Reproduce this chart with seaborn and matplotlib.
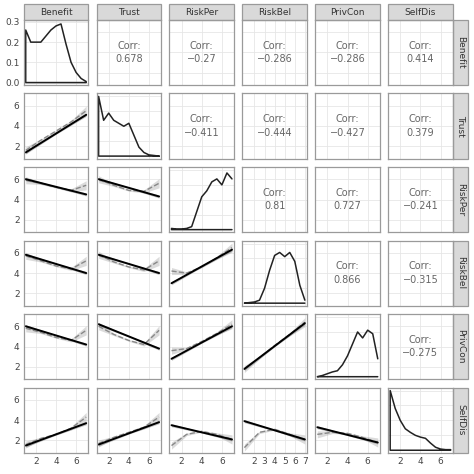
import numpy as np
import pandas as pd
import matplotlib
matplotlib.use("Agg")
import matplotlib.pyplot as plt
import seaborn as sns
from matplotlib.patches import Rectangle

variables = ["Benefit", "Trust", "RiskPer", "RiskBel", "PrivCon", "SelfDis"]

# upper triangle correlations (row, col)
corr = {
    (0, 1): "0.678", (0, 2): "\u22120.27", (0, 3): "\u22120.286", (0, 4): "\u22120.286", (0, 5): "0.414",
    (1, 2): "\u22120.411", (1, 3): "\u22120.444", (1, 4): "\u22120.427", (1, 5): "0.379",
    (2, 3): "0.81", (2, 4): "0.727", (2, 5): "\u22120.241",
    (3, 4): "0.866", (3, 5): "\u22120.315",
    (4, 5): "\u22120.275",
}

# density curves on grid 1..7 step 0.5 (Benefit in real density units, others relative)
dens_x = [1, 1.5, 2, 2.5, 3, 3.5, 4, 4.5, 5, 5.5, 6, 6.5, 7]
dens = {
    "Benefit": [0.26, 0.2, 0.2, 0.2, 0.23, 0.26, 0.28, 0.29, 0.19, 0.1, 0.05, 0.02, 0.005],
    "Trust": [1.0, 0.6, 0.72, 0.6, 0.55, 0.5, 0.55, 0.35, 0.15, 0.06, 0.02, 0.01, 0.0],
    "RiskPer": [0.02, 0.01, 0.01, 0.02, 0.05, 0.3, 0.55, 0.65, 0.8, 0.85, 0.75, 0.95, 0.85],
    "RiskBel": [0.0, 0.01, 0.02, 0.05, 0.25, 0.55, 0.8, 0.85, 0.78, 0.85, 0.7, 0.3, 0.05],
    "PrivCon": [0.0, 0.02, 0.05, 0.08, 0.1, 0.2, 0.35, 0.55, 0.75, 0.65, 0.78, 0.72, 0.3],
    "SelfDis": [1.0, 0.7, 0.5, 0.36, 0.3, 0.25, 0.22, 0.2, 0.12, 0.05, 0.02, 0.01, 0.01],
}

# lower panels: linear fit (y at x=1, y at x=7) and smooth curve at x=1,2.5,4,5.5,7
curve_x = [1, 2.5, 4, 5.5, 7]
lin = {
    (1, 0): (1.4, 5.1), (2, 0): (6.0, 4.5), (2, 1): (6.0, 4.3),
    (3, 0): (5.8, 4.0), (3, 1): (5.8, 4.0), (3, 2): (3.0, 6.3),
    (4, 0): (6.0, 4.2), (4, 1): (6.2, 3.8), (4, 2): (2.8, 6.0), (4, 3): (1.8, 6.3),
    (5, 0): (1.5, 3.7), (5, 1): (1.6, 3.8), (5, 2): (3.5, 2.1), (5, 3): (3.9, 2.1), (5, 4): (3.3, 1.8),
}
curve = {
    (1, 0): [1.6, 2.6, 3.5, 4.4, 5.5], (2, 0): [5.9, 5.6, 5.2, 4.9, 5.4], (2, 1): [6.0, 5.4, 4.9, 4.8, 5.6],
    (3, 0): [5.7, 5.2, 4.7, 4.4, 5.2], (3, 1): [5.8, 5.1, 4.6, 4.3, 5.2], (3, 2): [4.2, 4.0, 4.6, 5.5, 6.5],
    (4, 0): [5.8, 5.4, 4.9, 4.6, 5.6], (4, 1): [6.0, 5.2, 4.6, 4.2, 5.6], (4, 2): [3.6, 3.8, 4.5, 5.3, 6.2],
    (4, 3): [1.8, 2.9, 4.1, 5.2, 6.4],
    (5, 0): [1.6, 2.2, 2.6, 3.2, 4.3], (5, 1): [1.7, 2.3, 2.8, 3.3, 4.3], (5, 2): [1.5, 2.6, 2.9, 2.6, 2.1],
    (5, 3): [1.3, 2.8, 3.1, 2.6, 2.1], (5, 4): [2.6, 2.8, 2.7, 2.3, 1.8],
}

sns.set_theme(style="whitegrid")
plt.rcParams["font.family"] = ["DejaVu Sans"]

fig, axes = plt.subplots(6, 6, figsize=(4.74, 4.74), dpi=100)
fig.subplots_adjust(left=0.05, right=0.955, top=0.958, bottom=0.045, wspace=0.13, hspace=0.13)

n = len(variables)
for i in range(n):
    for j in range(n):
        ax = axes[i, j]
        if j == 3:
            ax.set_xticks([2, 3, 4, 5, 6, 7])
        else:
            ax.set_xticks([2, 4, 6])
        if i == j:
            d = dens[variables[i]]
            top = 0.31 if i == 0 else 1.05
            if i == 0:
                ax.set_yticks([0.0, 0.1, 0.2, 0.3])
            else:
                ax.set_yticks([0.25, 0.5, 0.75, 1.0])
            # closed outline: baseline, vertical rise at x=1, then the curve
            xs = [dens_x[-1], dens_x[0], dens_x[0]] + dens_x
            ys = [0, 0, 0] + d
            sns.lineplot(x=xs, y=ys, ax=ax, color="#222222", lw=1.1, sort=False, estimator=None)
            ax.set_ylim(-0.012 * top / 0.31, top)
        elif i < j:
            ax.set_yticks([2, 4, 6])
            ax.text(0.5, 0.5, "Corr:\n" + corr[(i, j)], transform=ax.transAxes,
                    ha="center", va="center", fontsize=7, color="#666666", linespacing=1.4)
            ax.set_ylim(0.8, 7.2)
        else:
            ax.set_yticks([2, 4, 6])
            a, b = lin[(i, j)]
            sns.lineplot(x=curve_x, y=curve[(i, j)], ax=ax, color="#888888", lw=1.0, linestyle="--")
            cy = np.array(curve[(i, j)])
            w = np.array([0.35, 0.12, 0.08, 0.15, 0.45])
            ax.fill_between(curve_x, cy - w, cy + w, color="#999999", alpha=0.35, lw=0)
            ax.fill_between([1, 4, 7], [a - 0.15, (a + b) / 2 - 0.07, b - 0.15],
                            [a + 0.15, (a + b) / 2 + 0.07, b + 0.15], color="#555555", alpha=0.35, lw=0)
            sns.lineplot(x=[1, 7], y=[a, b], ax=ax, color="black", lw=1.4)
            ax.set_ylim(0.8, 7.2)
        ax.set_xlim(0.8, 7.2)

        ax.grid(True, color="#e6e6e6", lw=0.6)
        for s in ax.spines.values():
            s.set_edgecolor("#9a9a9a")
            s.set_linewidth(0.9)
        ax.tick_params(labelsize=6.5, colors="#444444", length=2, pad=1)
        if i != n - 1:
            ax.set_xticklabels([])
        if j != 0:
            ax.set_yticklabels([])
        ax.set_xlabel("")
        ax.set_ylabel("")

        if i == 0:
            ax.add_patch(Rectangle((0, 1.0), 1, 0.24, transform=ax.transAxes, clip_on=False,
                                   facecolor="#d9d9d9", edgecolor="#9a9a9a", lw=0.9))
            ax.text(0.5, 1.12, variables[j], transform=ax.transAxes, ha="center", va="center",
                    fontsize=6.5, color="#333333")
        if j == n - 1:
            ax.add_patch(Rectangle((1.0, 0), 0.24, 1, transform=ax.transAxes, clip_on=False,
                                   facecolor="#d9d9d9", edgecolor="#9a9a9a", lw=0.9))
            ax.text(1.12, 0.5, variables[i], transform=ax.transAxes, ha="center", va="center",
                    fontsize=6.5, color="#333333", rotation=-90)

fig.savefig("out.png", dpi=100)
